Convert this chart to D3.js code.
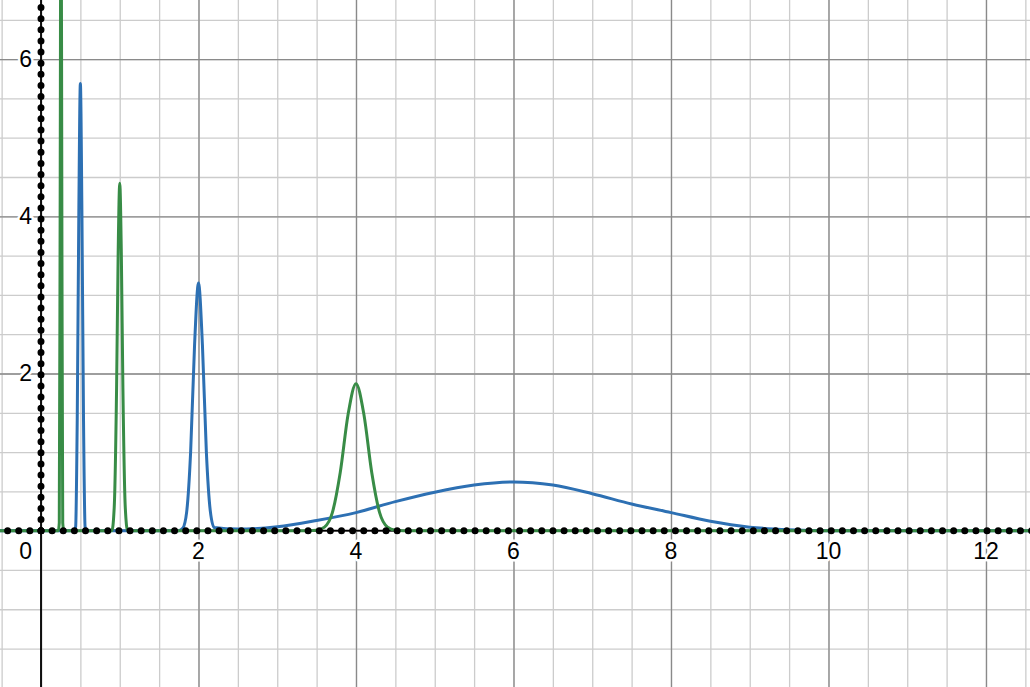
<!DOCTYPE html>
<html lang="en">
<head>
  <meta charset="UTF-8">
  <title>Peaks</title>
  <script src="https://d3js.org/d3.v7.min.js"></script>
  <style>
    html, body { margin: 0; padding: 0; background: #fff; }
    svg { display: block; }
    .tick-label {
      font-family: Arial, "Liberation Sans", sans-serif;
      font-size: 23px;
      fill: #000;
      stroke: #fff;
      stroke-width: 5px;
      paint-order: stroke;
      stroke-linejoin: round;
    }
  </style>
</head>
<body>
  <div id="chart"></div>
  <script>
    // Tick labels
    const xTickLabels = [2, 4, 6, 8, 10, 12];
    const yTickLabels = [2, 4, 6];

    // Blue curve: points (x, y)
    const blueX = [-0.6, 0.42, 0.44, 0.46, 0.48, 0.5, 0.52, 0.54, 0.56, 0.58,
      1.75, 1.8, 1.85, 1.9, 1.95, 2.0, 2.05, 2.1, 2.15, 2.2,
      2.5, 3.0, 3.5, 4.0, 4.5, 5.0, 5.5, 6.0, 6.5, 7.0, 7.5, 8.0, 8.5, 9.0, 9.5, 10.0, 12.7];
    const blueY = [0, 0, 0.05, 1.4, 4.0, 5.69, 4.0, 1.4, 0.05, 0,
      0, 0.03, 0.24, 1.0, 2.36, 3.15, 2.36, 1.0, 0.25, 0.04,
      0.02, 0.05, 0.13, 0.23, 0.37, 0.49, 0.58, 0.62, 0.58, 0.47, 0.34, 0.23, 0.12, 0.045, 0.012, 0, 0];

    // Green curve: points (x, y)
    const greenX = [-0.6, 0.22, 0.232, 0.243, 0.254, 0.265, 0.276, 0.29,
      0.9, 0.93, 0.96, 0.98, 1.0, 1.02, 1.04, 1.07, 1.1,
      3.4, 3.5, 3.6, 3.7, 3.8, 3.9, 4.0, 4.1, 4.2, 4.3, 4.4, 4.5, 4.6, 12.7];
    const greenY = [0, 0, 0.1, 4.0, 9.0, 4.0, 0.1, 0,
      0, 0.3, 1.82, 3.54, 4.42, 3.54, 1.82, 0.3, 0,
      0, 0.006, 0.046, 0.23, 0.74, 1.48, 1.87, 1.48, 0.74, 0.23, 0.046, 0.006, 0, 0];

    const width = 1030;
    const height = 687;

    const x = d3.scaleLinear().domain([-0.5206, 12.559]).range([0, width]);
    const y = d3.scaleLinear().domain([-1.989, 6.752]).range([height, 0]);

    const svg = d3.select("#chart")
      .append("svg")
      .attr("width", width)
      .attr("height", height);

    // Grid via axes
    const minorX = d3.range(-0.5, 12.6, 0.5);
    const minorY = d3.range(-2, 7, 0.5);
    const majorX = d3.range(-2, 14, 2);
    const majorY = d3.range(-2, 8, 2);

    function grid(axis, cls, color, w) {
      const g = svg.append("g").attr("class", cls).call(axis);
      g.select(".domain").remove();
      g.selectAll("line").attr("stroke", color).attr("stroke-width", w);
      g.selectAll("text").remove();
      return g;
    }

    grid(d3.axisBottom(x).tickValues(minorX).tickSize(height).tickFormat(""), "minor-x", "#cccccc", 1.3);
    grid(d3.axisRight(y).tickValues(minorY).tickSize(width).tickFormat(""), "minor-y", "#cccccc", 1.3);
    grid(d3.axisBottom(x).tickValues(majorX).tickSize(height).tickFormat(""), "major-x", "#8a8a8a", 1.3);
    grid(d3.axisRight(y).tickValues(majorY).tickSize(width).tickFormat(""), "major-y", "#8a8a8a", 1.3);

    // Axis lines
    svg.append("line")
      .attr("x1", 0).attr("x2", width)
      .attr("y1", y(0)).attr("y2", y(0))
      .attr("stroke", "#000").attr("stroke-width", 1.8);
    svg.append("line")
      .attr("x1", x(0)).attr("x2", x(0))
      .attr("y1", 0).attr("y2", height)
      .attr("stroke", "#000").attr("stroke-width", 1.8);

    // Curves
    const line = d3.line()
      .x(d => x(d[0]))
      .y(d => y(d[1]))
      .curve(d3.curveMonotoneX);

    svg.append("path")
      .datum(d3.zip(blueX, blueY))
      .attr("fill", "none")
      .attr("stroke", "#2d70b3")
      .attr("stroke-width", 3)
      .attr("stroke-linejoin", "round")
      .attr("d", line);

    svg.append("path")
      .datum(d3.zip(greenX, greenY))
      .attr("fill", "none")
      .attr("stroke", "#388c46")
      .attr("stroke-width", 3)
      .attr("stroke-linejoin", "round")
      .attr("d", line);

    // Dotted lines along the axes
    const dotted = (x1, y1, x2, y2) => svg.append("line")
      .attr("x1", x1).attr("y1", y1).attr("x2", x2).attr("y2", y2)
      .attr("stroke", "#000")
      .attr("stroke-width", 7)
      .attr("stroke-linecap", "round")
      .attr("stroke-dasharray", "0 11.13");

    dotted(x(0), y(0), width + 10, y(0));
    dotted(x(0), y(0), -10, y(0));
    dotted(x(0), y(0), x(0), -10);

    // Tick labels
    svg.append("g")
      .selectAll("text")
      .data(xTickLabels)
      .join("text")
      .attr("class", "tick-label")
      .attr("x", d => x(d))
      .attr("y", y(0) + 28)
      .attr("text-anchor", "middle")
      .text(d => d);

    svg.append("g")
      .selectAll("text")
      .data(yTickLabels)
      .join("text")
      .attr("class", "tick-label")
      .attr("x", x(0) - 9)
      .attr("y", d => y(d) + 8)
      .attr("text-anchor", "end")
      .text(d => d);

    svg.append("text")
      .attr("class", "tick-label")
      .attr("x", x(0) - 9)
      .attr("y", y(0) + 28)
      .attr("text-anchor", "end")
      .text(0);
  </script>
</body>
</html>
